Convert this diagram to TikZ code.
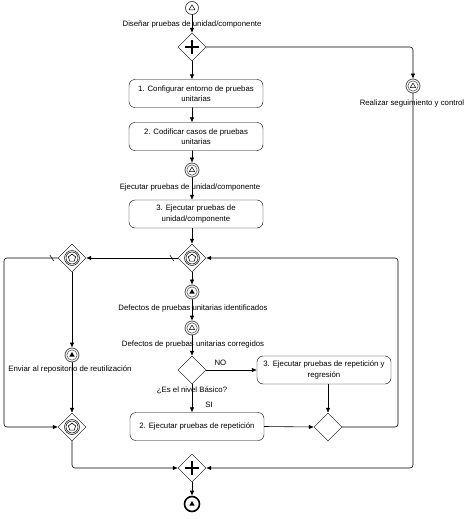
\documentclass[tikz,border=0pt]{standalone}
\usepackage{fontspec}
\setmainfont{Liberation Sans}
\usetikzlibrary{arrows.meta,shapes.geometric,calc,decorations.markings}

\begin{document}
\begin{tikzpicture}[x=1pt, y=-1pt, >={Latex[length=5pt,width=4.5pt]}, line cap=round, line join=round,
		font=\fontsize{7.8}{10.5}\selectfont]
	
	% Colors
	\definecolor{ringG}{RGB}{85,85,85}
	
	\tikzset{
		task/.style={rounded corners=6pt, draw=black, fill=white, minimum width=134pt, minimum height=28pt, inner sep=2pt, align=center},
		gate/.style={diamond, draw=black, fill=white, minimum size=28pt, inner sep=0pt},
		ev/.style={circle, draw=ringG, line width=0.8pt, fill=white, minimum size=14pt, inner sep=0pt},
		flow/.style={->, draw=black, line width=0.6pt, rounded corners=3pt},
		lab/.style={align=center, inner sep=0pt},
		defaultflow/.style={postaction={decorate}, decoration={markings,
				mark=at position 6pt with {\draw[-, line width=0.5pt] (-2pt,3pt) -- (2pt,-3pt);}}},
		% events
		catchsig/.style={ev, path picture={
				\coordinate (pc) at (path picture bounding box.center);
				\draw[ringG, line width=0.6pt] (pc) circle (5.2pt);
				\draw[black, line width=0.5pt] ($(pc)+(0,3pt)$) -- ($(pc)+(-2.7pt,-1.7pt)$) -- ($(pc)+(2.7pt,-1.7pt)$) -- cycle;}},
		throwsig/.style={ev, path picture={
				\coordinate (pc) at (path picture bounding box.center);
				\draw[ringG, line width=0.6pt] (pc) circle (5.2pt);
				\fill[black] ($(pc)+(0,3pt)$) -- ($(pc)+(-2.7pt,-1.7pt)$) -- ($(pc)+(2.7pt,-1.7pt)$) -- cycle;}},
		startsig/.style={ev, draw=black, line width=0.5pt, minimum size=13pt, path picture={
				\coordinate (pc) at (path picture bounding box.center);
				\draw[black, line width=0.5pt] ($(pc)+(0,3.2pt)$) -- ($(pc)+(-3pt,-1.8pt)$) -- ($(pc)+(3pt,-1.8pt)$) -- cycle;}},
		endsig/.style={ev, draw=black, line width=1.6pt, minimum size=15pt, path picture={
				\coordinate (pc) at (path picture bounding box.center);
				\fill[black] ($(pc)+(0,3pt)$) -- ($(pc)+(-2.7pt,-1.7pt)$) -- ($(pc)+(2.7pt,-1.7pt)$) -- cycle;}},
		% gateways
		pargate/.style={gate, path picture={
				\coordinate (pc) at (path picture bounding box.center);
				\draw[line width=2.6pt, line cap=butt] ($(pc)+(-7pt,0)$) -- ($(pc)+(7pt,0)$) ($(pc)+(0,-7pt)$) -- ($(pc)+(0,7pt)$);}},
		evgate/.style={gate, path picture={
				\coordinate (pc) at (path picture bounding box.center);
				\draw[line width=0.5pt] (pc) circle (7.5pt) (pc) circle (6pt);
				\draw[line width=0.6pt] ($(pc)+(90:3.8pt)$) -- ($(pc)+(162:3.8pt)$) -- ($(pc)+(234:3.8pt)$) -- ($(pc)+(306:3.8pt)$) -- ($(pc)+(18:3.8pt)$) -- cycle;}},
	}
	
	\useasboundingbox (0,0) rectangle (474,519);
	
	% --- Main column
	\node[startsig] (eStart) at (192,8) {};
	\node[lab] (lDisenar) at (192,24) {Diseñar pruebas de unidad/componente};
	\node[pargate] (gTop) at (192,47) {};
	\node[task] (b1) at (196,93.5) {1. Configurar entorno de pruebas\\unitarias};
	\node[task] (b2) at (196,136.5) {2. Codificar casos de pruebas\\unitarias};
	\node[catchsig] (eEjec) at (192,170) {};
	\node[lab] (lEjec) at (190,187) {Ejecutar pruebas de unidad/componente};
	\node[task] (b3) at (196,214) {3. Ejecutar pruebas de\\unidad/componente};
	\node[evgate] (gMain) at (192,258) {};
	\node[throwsig] (eDefId) at (192,292) {};
	\node[lab] (lDefId) at (193,308) {Defectos de pruebas unitarias identificados};
	\node[catchsig] (eDefCorr) at (192,328) {};
	\node[lab] (lDefCorr) at (193,344) {Defectos de pruebas unitarias corregidos};
	\node[gate] (gExc) at (192,370) {};
	\node[lab] (lBasico) at (192,390) {¿Es el nivel Básico?};
	\node[task] (bReg) at (324,370) {3. Ejecutar pruebas de repetición y\\regresión};
	\node[task] (bRep) at (197,426.5) {2. Ejecutar pruebas de repetición};
	\node[gate] (gMerge) at (328,427) {};
	\node[pargate] (gBot) at (192,468) {};
	\node[endsig] (eEnd) at (192,504) {};
	
	% --- Right branch
	\node[catchsig] (eSeg) at (413,86) {};
	\node[lab] (lSeg) at (412,103) {Realizar seguimiento y control};
	
	% --- Left branch
	\node[evgate] (gLeft) at (72,258) {};
	\node[throwsig] (eEnviar) at (72,355) {};
	\node[lab] (lEnviar) at (70,369) {Enviar al repositorio de reutilización};
	\node[evgate] (gLow) at (72,427) {};
	
	\coordinate (cR) at (398,258);
	\coordinate (cL) at (4,258);
	
	% --- Flows
	\draw[flow] (eStart.south) -- (gTop.north);
	\draw[flow] (gTop.south) -- (gTop.south |- b1.north);
	\draw[flow] (gTop.east) -| (eSeg.north);
	\draw[flow] (b1.south -| gTop) -- (gTop |- b2.north);
	\draw[flow] (b2.south -| gTop) -- (eEjec.north);
	\draw[flow] (eEjec.south) -- (eEjec |- b3.north);
	\draw[flow] (b3.south -| gMain) -- (gMain.north);
	\draw[flow] (gMain.south) -- (eDefId.north);
	\draw[flow] (eDefId.south) -- (eDefCorr.north);
	\draw[flow] (eDefCorr.south) -- (gExc.north);
	\draw[flow] (gExc.east) -- node[pos=0.28, above=4pt, lab] (lNo) {NO} (bReg.west);
	\draw[flow] (gExc.south) -- node[pos=0.72, right=13pt, lab] (lSi) {SI} (gExc |- bRep.north);
	\draw[flow] (bRep.east) -- (gMerge.west);
	\draw[flow] (bReg.south -| gMerge) -- (gMerge.north);
	\draw[flow] (gMerge.east) -| (cR) -- (gMain.east);
	\draw[flow, defaultflow] (gMain.west) -- (gLeft.east);
	\draw[flow, defaultflow] (gLeft.west) -- (cL) |- (gLow.west);
	\draw[flow] (gLeft.south) -- (eEnviar.north);
	\draw[flow] (eEnviar.south) -- (gLow.north);
	\draw[flow] (gLow.south) |- (gBot.west);
	\draw[flow] (eSeg.south) |- (gBot.east);
	\draw[flow] (gBot.south) -- (eEnd.north);
	
\end{tikzpicture}
\end{document}
